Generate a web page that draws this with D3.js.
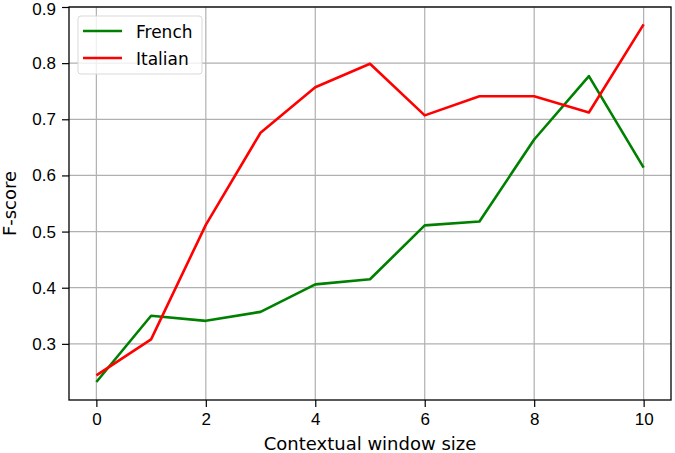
<!DOCTYPE html>
<html>
<head>
<meta charset="utf-8">
<script src="https://cdn.jsdelivr.net/npm/d3@7"></script>
<style>
  body { margin: 0; background: #fff; }
  svg { display: block; font-family: "DejaVu Sans", sans-serif; }
  .grid line { stroke: #b0b0b0; stroke-width: 1.2; }
  .tick text { font-size: 17px; fill: #000; }
</style>
</head>
<body>
<svg id="chart" width="675" height="453"></svg>
<script>
// window sizes 0..10
const windowSizes = [0, 1, 2, 3, 4, 5, 6, 7, 8, 9, 10];
const frenchScores = [0.232, 0.350, 0.341, 0.357, 0.406, 0.415, 0.511, 0.518, 0.664, 0.777, 0.614];
const italianScores = [0.244, 0.308, 0.512, 0.676, 0.757, 0.799, 0.707, 0.741, 0.741, 0.712, 0.869];
const xTicks = [0, 2, 4, 6, 8, 10];
const yTicks = [0.3, 0.4, 0.5, 0.6, 0.7, 0.8, 0.9];
const seriesNames = ["French", "Italian"];
const seriesColors = ["#008000", "#ff0000"];

const margin = { top: 7, right: 4, bottom: 53, left: 69 };
const width = 675, height = 453;
const svg = d3.select("#chart");

const x = d3.scaleLinear().domain([-0.5, 10.5]).range([margin.left, width - margin.right]);
const y = d3.scaleLinear().domain([0.2, 0.9]).range([height - margin.bottom, margin.top]);

// grid
const grid = svg.append("g").attr("class", "grid");
grid.selectAll("line.v").data(xTicks).join("line").attr("class", "v")
  .attr("x1", d => x(d)).attr("x2", d => x(d))
  .attr("y1", y.range()[0]).attr("y2", y.range()[1]);
grid.selectAll("line.h").data(yTicks).join("line").attr("class", "h")
  .attr("x1", x.range()[0]).attr("x2", x.range()[1])
  .attr("y1", d => y(d)).attr("y2", d => y(d));

// lines
const series = [frenchScores, italianScores];
const line = d3.line().x((d, i) => x(windowSizes[i])).y(d => y(d));
svg.append("g").selectAll("path").data(series).join("path")
  .attr("d", d => line(d))
  .attr("fill", "none")
  .attr("stroke", (d, i) => seriesColors[i])
  .attr("stroke-width", 2.6)
  .attr("stroke-linejoin", "round");

// axes
const xAxis = svg.append("g")
  .attr("transform", `translate(0,${height - margin.bottom})`)
  .call(d3.axisBottom(x).tickValues(xTicks).tickSize(7).tickPadding(6).tickFormat(d3.format("d")));
const yAxis = svg.append("g")
  .attr("transform", `translate(${margin.left},0)`)
  .call(d3.axisLeft(y).tickValues(yTicks).tickSize(7).tickPadding(6).tickFormat(d3.format(".1f")));
[xAxis, yAxis].forEach(a => {
  a.select(".domain").remove();
  a.selectAll(".tick line").attr("stroke", "#000").attr("stroke-width", 1.2);
});
// top label sits right at the edge, nudge it so it isn't clipped
yAxis.selectAll(".tick text").filter(d => d === 0.9).attr("dy", "0.45em");

// frame
svg.append("rect")
  .attr("x", margin.left).attr("y", margin.top)
  .attr("width", width - margin.left - margin.right)
  .attr("height", height - margin.top - margin.bottom)
  .attr("fill", "none").attr("stroke", "#000").attr("stroke-width", 1.3);

// axis labels
svg.append("text")
  .attr("x", (margin.left + width - margin.right) / 2).attr("y", 450)
  .attr("text-anchor", "middle").attr("font-size", 18)
  .text("Contextual window size");
svg.append("text")
  .attr("transform", `translate(16,${(margin.top + height - margin.bottom) / 2}) rotate(-90)`)
  .attr("text-anchor", "middle").attr("font-size", 18)
  .text("F-score");

// legend
const legend = svg.append("g").attr("transform", "translate(78,16)");
legend.append("rect")
  .attr("width", 124).attr("height", 58).attr("rx", 3)
  .attr("fill", "#fff").attr("fill-opacity", 0.8)
  .attr("stroke", "#d9d9d9").attr("stroke-width", 1);
seriesNames.forEach((name, i) => {
  const row = legend.append("g").attr("transform", `translate(0,${15 + i * 27})`);
  row.append("line").attr("x1", 5).attr("x2", 44)
    .attr("stroke", seriesColors[i]).attr("stroke-width", 2.6);
  row.append("text").attr("x", 58).attr("y", 6.5).attr("font-size", 17).text(name);
});
</script>
</body>
</html>
